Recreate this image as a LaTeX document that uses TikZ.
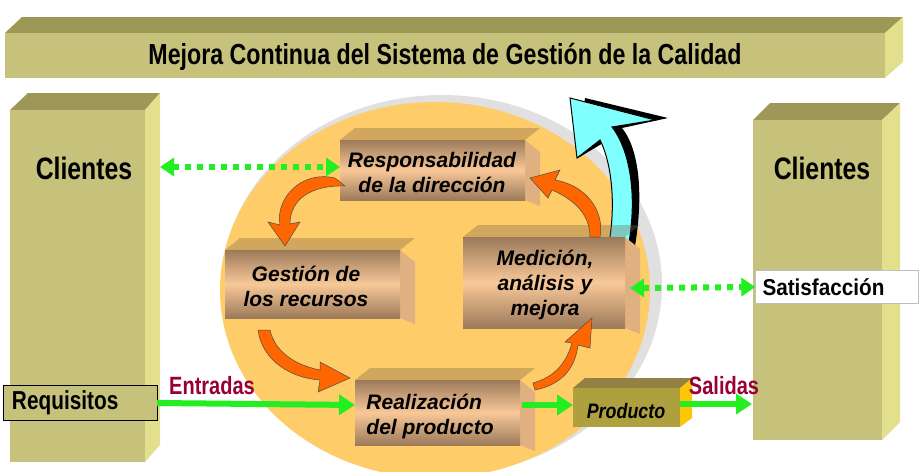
\documentclass[tikz,border=0pt]{standalone}
\usepackage{fontspec}
\setmainfont{Liberation Sans}
\usetikzlibrary{arrows.meta}
\definecolor{olv}{HTML}{C6C27C}
\definecolor{olvt}{HTML}{9E9858}
\definecolor{olvs}{HTML}{E2E08C}
\definecolor{brd}{HTML}{9C7A5A}
\definecolor{brl}{HTML}{F8C898}
\definecolor{brs}{HTML}{E0B080}
\definecolor{org}{HTML}{FF6600}
\definecolor{grn}{HTML}{22EE22}
\definecolor{wine}{HTML}{990033}
\definecolor{ell}{HTML}{FFCC6A}
\definecolor{cya}{HTML}{80FFFF}
\begin{document}
\begin{tikzpicture}[x=1pt,y=-1pt,
  proc/.style={font=\bfseries\itshape\fontsize{21}{25}\selectfont,align=center,inner sep=0pt},
  garrow/.style={grn,line width=6pt,-{Triangle[length=16pt,width=20pt]}},
  gdot/.style={grn,line width=6pt,dash pattern=on 6pt off 6pt,{Triangle[length=14pt,width=18pt]}-{Triangle[length=14pt,width=18pt]}},
  oarrow/.style={draw=black!70,fill=org,line width=0.5pt}]
\useasboundingbox (0,0) rectangle (920,471);
% banner
\fill[olvt] (5,33) -- (22,17) -- (903,17) -- (885,33) -- cycle;
\fill[olvs] (885,33) -- (903,17) -- (903,62) -- (885,78) -- cycle;
\fill[olv] (5,33) rectangle (885,78);
\node[font=\bfseries\fontsize{29}{32}\selectfont] (title) at (445,57) {\addfontfeature{FakeStretch=0.8}Mejora Continua del Sistema de Gestión de la Calidad};
% left column
\fill[olvt] (10,110) -- (28,93) -- (160,93) -- (145,110) -- cycle;
\fill[olvs] (145,110) -- (160,93) -- (160,445) -- (145,462) -- cycle;
\fill[olv] (10,110) rectangle (145,462);
\node[font=\bfseries\fontsize{31}{34}\selectfont] (cl1) at (84,168) {\addfontfeature{FakeStretch=0.8}Clientes};
% right column
\fill[olvt] (753,120) -- (770,103) -- (900,103) -- (882,120) -- cycle;
\fill[olvs] (882,120) -- (900,103) -- (900,422) -- (882,440) -- cycle;
\fill[olv] (753,120) rectangle (882,440);
\node[font=\bfseries\fontsize{31}{34}\selectfont] (cl2) at (822,168) {\addfontfeature{FakeStretch=0.8}Clientes};
% ellipse
\fill[black!12] (442,285) ellipse [x radius=220, y radius=190];
\fill[ell] (435,290) ellipse [x radius=215, y radius=188];
% cyan arrow
\fill[black] (632,262) .. controls (645,200) and (640,150) .. (622,128) -- (668,118) -- (585,98) -- (578,158) -- (608,140) .. controls (625,170) and (625,220) .. (616,252) -- cycle;
\draw[black,line width=1pt,fill=cya] (625,262) .. controls (640,200) and (630,150) .. (612,127) -- (655,120) -- (570,98) -- (577,158) -- (600,140) .. controls (615,170) and (615,220) .. (607,252) -- cycle;
% process boxes
\newcommand{\pbox}[4]{%
 \fill[brs] (#3,#2) -- (#3+15,#2+12) -- (#3+15,#4+6) -- (#3,#4) -- cycle;
 \shade[top color=brd,bottom color=brd,middle color=brl] (#1,#2) rectangle (#3,#4);
 \fill[brd!80!black,opacity=0.35] (#1,#2) -- (#1+15,#2-12) -- (#3+15,#2-12) -- (#3,#2) -- cycle;
}
\pbox{340}{140}{525}{200}
\node[proc] (resp) at (432,172) {Responsabilidad\\de la dirección};
\pbox{225}{250}{400}{318}
\node[proc] (gest) at (306,286) {Gestión de\\los recursos};
\pbox{463}{237}{625}{328}
\node[proc] (med) at (545,285) {Medición,\\análisis y\\mejora};
\pbox{355}{380}{520}{445}
\node[proc,align=left] (real) at (430,416) {Realización\\del producto};
% producto
\fill[yellow!60!orange] (680,388) -- (692,378) -- (692,418) -- (680,427) -- cycle;
\fill[yellow!40!black!80!orange] (573,388) -- (585,378) -- (692,378) -- (680,388) -- cycle;
\fill[yellow!60!black!90!orange] (573,388) rectangle (680,427);
\node[font=\bfseries\itshape\fontsize{21}{23}\selectfont] (prod) at (626,411) {\addfontfeature{FakeStretch=0.85}Producto};
% orange arrows
\draw[oarrow] (335,178) .. controls (300,170) and (275,200) .. (280,225) -- (268,222) -- (285,246) -- (300,222) -- (290,224) .. controls (290,200) and (310,185) .. (345,186) -- cycle;
\draw[oarrow] (600,237) .. controls (605,210) and (585,185) .. (555,180) -- (560,170) -- (530,178) -- (548,198) -- (552,190) .. controls (575,200) and (590,215) .. (590,237) -- cycle;
\draw[oarrow] (258,330) .. controls (262,360) and (290,378) .. (320,380) -- (318,392) -- (350,378) -- (320,362) -- (320,370) .. controls (295,365) and (275,352) .. (270,330) -- cycle;
\draw[oarrow] (535,390) .. controls (560,385) and (575,370) .. (578,345) -- (590,348) -- (592,318) -- (565,342) -- (572,343) .. controls (565,368) and (550,378) .. (533,383) -- cycle;
% requisitos / satisfaccion
\node[draw=black,fill=olv,minimum width=154pt,minimum height=35pt,font=\bfseries\fontsize{26}{28}\selectfont,text width=136pt] (req) at (80,403) {\addfontfeature{FakeStretch=0.8}Requisitos};
\node[draw=black!25,fill=white,minimum width=163pt,minimum height=33pt,font=\bfseries\fontsize{23}{25}\selectfont,text width=149pt] (sat) at (837,287) {\addfontfeature{FakeStretch=0.9}Satisfacción};
% green arrows
\draw[garrow] (req.east) -- (355,405);
\draw[garrow] (522,405) -- (573,405);
\draw[garrow] (680,404) -- (752,404);
\draw[gdot] (160,167) -- (340,167);
\draw[gdot] (630,288) -- (sat.west);
\node[font=\bfseries\fontsize{25}{27}\selectfont,text=wine] (ent) at (212,386) {\addfontfeature{FakeStretch=0.8}Entradas};
\node[font=\bfseries\fontsize{25}{27}\selectfont,text=wine] (sal) at (724,386) {\addfontfeature{FakeStretch=0.8}Salidas};
\end{tikzpicture}
\end{document}
